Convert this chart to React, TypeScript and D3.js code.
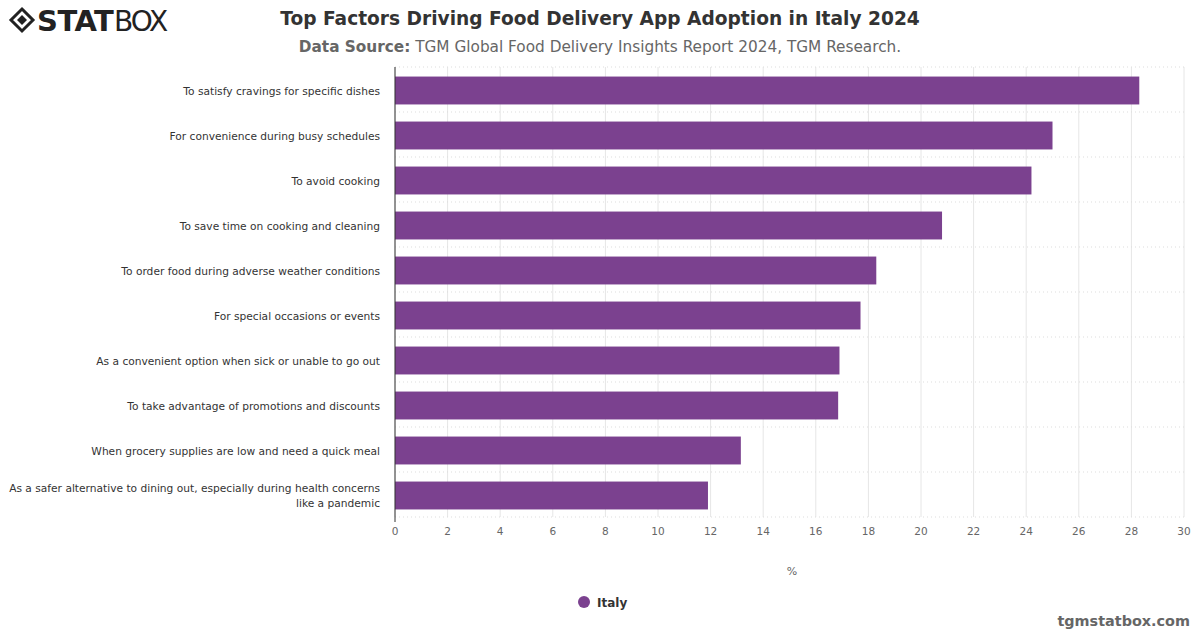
import React from "react";
import * as d3 from "d3";

const categories = [
  "To satisfy cravings for specific dishes",
  "For convenience during busy schedules",
  "To avoid cooking",
  "To save time on cooking and cleaning",
  "To order food during adverse weather conditions",
  "For special occasions or events",
  "As a convenient option when sick or unable to go out",
  "To take advantage of promotions and discounts",
  "When grocery supplies are low and need a quick meal",
  "As a safer alternative to dining out, especially during health concerns|like a pandemic",
];
const values = [28.3, 25.0, 24.2, 20.8, 18.3, 17.7, 16.9, 16.85, 13.15, 11.9];
const xTicks = [0, 2, 4, 6, 8, 10, 12, 14, 16, 18, 20, 22, 24, 26, 28, 30];
const seriesName = "Italy";
const title = "Top Factors Driving Food Delivery App Adoption in Italy 2024";
const sourceLabel = "Data Source:";
const sourceText = " TGM Global Food Delivery Insights Report 2024, TGM Research.";

const W = 1200;
const H = 630;
const left = 395;
const right = 1184;
const top = 67;
const bottom = 517;
const color = "#7b418f";
const font = "'DejaVu Sans', sans-serif";

export default function App() {
  const x = d3.scaleLinear().domain([0, 30]).range([left, right]);
  const y = d3
    .scaleBand()
    .domain(categories)
    .range([top, bottom])
    .paddingInner(0.38)
    .paddingOuter(0.19);
  const bounds = d3.range(categories.length + 1).map((i) => top + i * ((bottom - top) / categories.length));

  return (
    <svg width={W} height={H} style={{ position: "absolute", left: 0, top: 0, background: "#fff" }}>
      <rect width={W} height={H} fill="#fff" />
      {/* logo */}
      <g transform="translate(10,8)">
        <path d="M12 1 L23 12 L12 23 L1 12 Z" fill="none" stroke="#222" strokeWidth={3} />
        <path d="M12 7 L17 12 L12 17 L7 12 Z" fill="#222" />
        <text x={27} y={23} fontFamily={font} fontWeight="bold" fontSize={29} fill="#222" letterSpacing={-0.5}>
          STAT
        </text>
        <text x={104} y={23} fontFamily={font} fontSize={28} fill="#222" letterSpacing={-2}>
          BOX
        </text>
      </g>
      <text x={600} y={25} textAnchor="middle" fontFamily={font} fontWeight="bold" fontSize={18.6} fill="#333">
        {title}
      </text>
      <text x={600} y={52} textAnchor="middle" fontFamily={font} fontSize={15.3} fill="#666">
        <tspan fontWeight="bold">{sourceLabel}</tspan>
        <tspan>{sourceText}</tspan>
      </text>
      {/* vertical grid */}
      {xTicks.map((t) => (
        <line key={"g" + t} x1={x(t)} x2={x(t)} y1={top} y2={bottom} stroke="#e6e6e6" strokeWidth={1} />
      ))}
      {/* horizontal dotted boundaries */}
      {bounds.map((b, i) => (
        <line key={"h" + i} x1={left} x2={right} y1={b} y2={b} stroke="#ddd" strokeWidth={1} strokeDasharray="1,3" />
      ))}
      {/* bars */}
      {categories.map((c, i) => (
        <rect key={c} x={x(0)} y={(y(c) as number) + 1} width={x(values[i]) - x(0)} height={y.bandwidth()} fill={color} />
      ))}
      <line x1={left} x2={left} y1={top} y2={bottom + 5} stroke="#333" strokeWidth={1} />
      {/* category labels */}
      {categories.map((c) => {
        const lines = c.split("|");
        const cy = (y(c) as number) + 1 + y.bandwidth() / 2;
        return (
          <text key={"l" + c} x={380} textAnchor="end" fontFamily={font} fontSize={10.65} fill="#333">
            {lines.map((ln, j) => (
              <tspan key={j} x={380} y={cy + 4 + (j - (lines.length - 1) / 2) * 15}>
                {ln}
              </tspan>
            ))}
          </text>
        );
      })}
      {/* tick labels */}
      {xTicks.map((t) => (
        <text key={"t" + t} x={x(t)} y={535} textAnchor="middle" fontFamily={font} fontSize={10.5} fill="#666">
          {t}
        </text>
      ))}
      <text x={792} y={575} textAnchor="middle" fontFamily={font} fontSize={11} fill="#666">
        %
      </text>
      {/* legend */}
      <circle cx={584} cy={602} r={6} fill={color} />
      <text x={597} y={607} fontFamily={font} fontWeight="bold" fontSize={12} fill="#333">
        {seriesName}
      </text>
      <text x={1190} y={626} textAnchor="end" fontFamily={font} fontWeight="bold" fontSize={14.4} fill="#666">
        tgmstatbox.com
      </text>
    </svg>
  );
}
